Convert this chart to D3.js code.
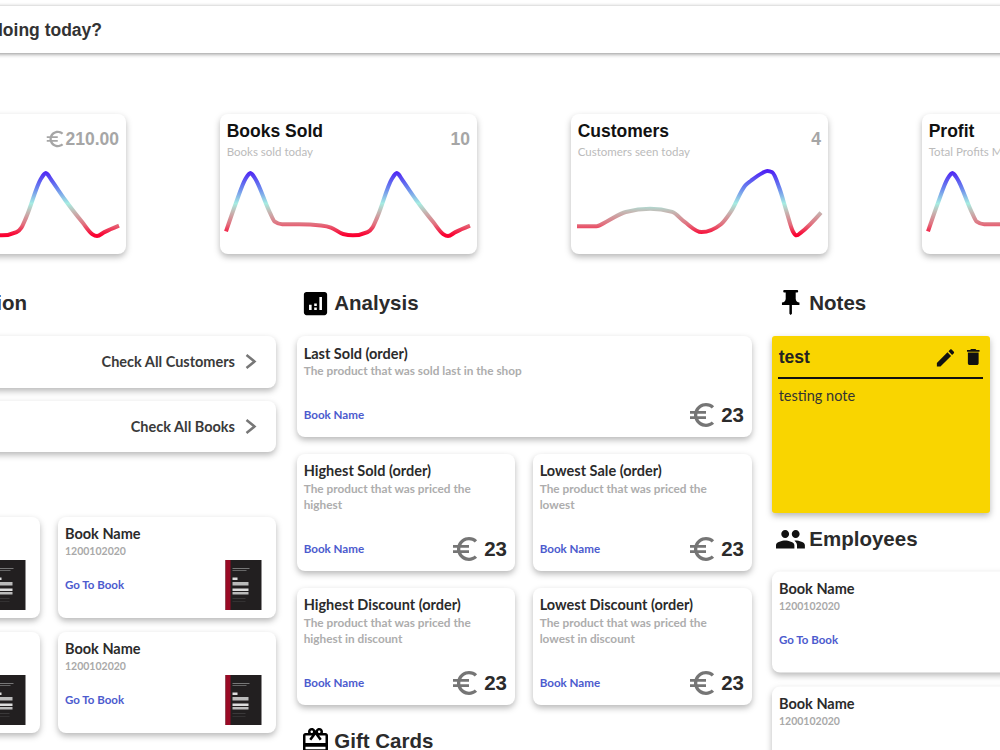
<!DOCTYPE html>
<html>
<head>
<meta charset="utf-8">
<title>Dashboard</title>
<script src="https://cdn.jsdelivr.net/npm/d3@7"></script>
<style>
  html, body { margin: 0; padding: 0; background: #fff; overflow: hidden; }
  svg { display: block; }
  text { font-family: "Lato", sans-serif; }
  .head { font-family: "Liberation Sans", sans-serif; font-weight: 700; fill: #2b2b2b; }
  .card { fill: #fff; filter: drop-shadow(0px 3px 3px rgba(0,0,0,0.28)); }
</style>
</head>
<body>
<svg id="page" width="1000" height="750"></svg>
<script>
//==============< chart values >=============//
var statTitles = ["", "Books Sold", "Customers", "Profit"];
var statSubtitles = ["", "Books sold today", "Customers seen today", "Total Profits Made"];
var statValues = ["210.00", "10", "4", ""];

// x is percent of the sparkline width, y is percent of its height
var salesX = [0, 4, 8, 9.3, 10, 10.7, 12, 18, 20, 23, 30, 39, 43, 48, 52, 58, 60, 62, 68, 69.3, 70, 70.7, 72, 78, 85, 89, 91, 94, 100];
var salesY = [7, 50, 88, 95, 97, 95, 88, 36, 22, 18, 18, 16, 13, 3, 1, 6, 13, 29, 88, 95, 97, 95, 88, 55, 21, 3, 0, 6, 16];
var booksX = [0, 4, 8, 9.3, 10, 10.7, 12, 18, 20, 23, 30, 39, 43, 48, 52, 58, 60, 62, 68, 69.3, 70, 70.7, 72, 78, 85, 89, 91, 94, 100];
var booksY = [7, 50, 88, 95, 97, 95, 88, 36, 22, 18, 18, 16, 13, 3, 1, 6, 13, 29, 88, 95, 97, 95, 88, 55, 21, 3, 0, 6, 16];
var customersX = [0, 8, 12, 20, 30, 39, 44, 51, 59, 63, 69, 71.3, 76, 78, 80, 83, 86, 88.5, 90, 92, 100];
var customersY = [15, 15, 22, 37, 42, 37, 22, 6, 18, 37, 78, 85, 97, 100, 98, 73, 36, 7, 1, 6, 36];
var profitX = [0, 4, 8, 9.3, 10, 10.7, 12, 18, 20, 23, 30, 39, 43, 48, 52, 58, 60, 62, 68, 69.3, 70, 70.7, 72, 78, 85, 89, 91, 94, 100];
var profitY = [7, 50, 88, 95, 97, 95, 88, 36, 22, 18, 18, 16, 13, 3, 1, 6, 13, 29, 88, 95, 97, 95, 88, 55, 21, 3, 0, 6, 16];

var analysisTitles = ["Last Sold (order)", "Highest Sold (order)", "Lowest Sale (order)", "Highest Discount (order)", "Lowest Discount (order)"];
var analysisLine1 = ["The product that was sold last in the shop", "The product that was priced the", "The product that was priced the", "The product that was priced the", "The product that was priced the"];
var analysisLine2 = ["", "highest", "lowest", "highest in discount", "lowest in discount"];
var analysisValues = [23, 23, 23, 23, 23];
var checkLabels = ["Check All Customers", "Check All Books"];

//==============< icon glyphs (material set, 24 unit box) >=============//
var icons = {
  euro: "M15 18.5c-2.51 0-4.68-1.42-5.76-3.5H15v-2H8.58c-.05-.33-.08-.66-.08-1s.03-.67.08-1H15V9H9.24C10.32 6.92 12.5 5.5 15 5.5c1.61 0 3.13.59 4.31 1.62L21.08 5.35C19.49 3.89 17.34 3 15 3 11.08 3 7.76 5.51 6.52 9H3v2h3.06c-.04.33-.06.66-.06 1s.02.67.06 1H3v2h3.52c1.24 3.49 4.56 6 8.48 6 2.34 0 4.49-.89 6.08-2.35l-1.77-1.77C18.13 17.91 16.61 18.5 15 18.5z",
  pin: "M16 9V4h1c.55 0 1-.45 1-1s-.45-1-1-1H7c-.55 0-1 .45-1 1s.45 1 1 1h1v5c0 1.66-1.34 3-3 3v2h5.97v7l1 1 1-1v-7H19v-2c-1.66 0-3-1.34-3-3z",
  edit: "M3 17.25V21h3.75L17.81 9.94l-3.75-3.75L3 17.25zM20.71 7.04c.39-.39.39-1.02 0-1.41l-2.34-2.34c-.39-.39-1.02-.39-1.41 0l-1.83 1.83 3.75 3.75 1.83-1.83z",
  trash: "M6 19c0 1.1.9 2 2 2h8c1.1 0 2-.9 2-2V7H6v12zM19 4h-3.5l-1-1h-5l-1 1H5v2h14V4z",
  people: "M16 11c1.66 0 2.99-1.34 2.99-3S17.66 5 16 5c-1.66 0-3 1.34-3 3s1.34 3 3 3zm-8 0c1.66 0 2.99-1.34 2.99-3S9.66 5 8 5C6.34 5 5 6.34 5 8s1.34 3 3 3zm0 2c-2.33 0-7 1.17-7 3.5V19h14v-2.5c0-2.33-4.67-3.5-7-3.5zm8 0c-.29 0-.62.02-.97.05 1.16.84 1.97 1.97 1.97 3.45V19h6v-2.5c0-2.33-4.67-3.5-7-3.5z",
  poll: "M19 3H5c-1.1 0-2 .9-2 2v14c0 1.1.9 2 2 2h14c1.1 0 2-.9 2-2V5c0-1.1-.9-2-2-2zM9 17H7v-4h2v4zm4 0h-2v-2h2v2zm0-3h-2v-2h2v2zm4 3h-2V7h2v10z",
  gift: "M20 6h-2.18c.11-.31.18-.65.18-1 0-1.66-1.34-3-3-3-1.05 0-1.96.54-2.5 1.35l-.5.67-.5-.68C10.96 2.54 10.05 2 9 2 7.34 2 6 3.34 6 5c0 .35.07.69.18 1H4c-1.11 0-1.99.89-1.99 2L2 19c0 1.11.89 2 2 2h16c1.11 0 2-.89 2-2V8c0-1.11-.89-2-2-2zm-5-2c.55 0 1 .45 1 1s-.45 1-1 1-1-.45-1-1 .45-1 1-1zM9 4c.55 0 1 .45 1 1s-.45 1-1 1-1-.45-1-1 .45-1 1-1zm11 15H4v-2h16v2zm0-5H4V8h5.08L7 10.83 8.62 12 11 8.76l1-1.36 1 1.36L15.38 12 17 10.83 14.92 8H20v6z"
};

var svg = d3.select("#page");

//==============< helpers >=============//
function addCard(x, y, w, h, radius) {
  return svg.append("rect").attr("class", "card")
    .attr("x", x).attr("y", y).attr("width", w).attr("height", h)
    .attr("rx", radius === undefined ? 8 : radius);
}

function addText(str, x, y, size, weight, fill, anchor, family) {
  // nothing to draw for labels that lie fully outside the window
  if (str === "" || y > 760 || x < 0 && anchor !== "end" || x > 1000 && anchor === "end") return;
  var t = svg.append("text").attr("x", x).attr("y", y).text(str)
    .attr("font-size", size).attr("font-weight", weight).attr("fill", fill)
    .attr("text-anchor", anchor || "start");
  if (family) t.style("font-family", family);
}

function addIcon(name, x, y, size, fill) {
  svg.append("path").attr("d", icons[name]).attr("fill", fill)
    .attr("transform", "translate(" + x + "," + y + ") scale(" + (size / 24) + ")");
}

function addHeading(str, x, y, anchor) {
  svg.append("text").attr("class", "head").attr("x", x).attr("y", y)
    .attr("font-size", 20.5).attr("text-anchor", anchor || "start").text(str);
}

//==============< gradient shared by the sparklines >=============//
var sparkTop = 171, sparkBottom = 236, sparkWidth = 244;
var grad = svg.append("defs").append("linearGradient").attr("id", "sparkGrad")
  .attr("gradientUnits", "userSpaceOnUse")
  .attr("x1", 0).attr("x2", 0).attr("y1", sparkTop - 2).attr("y2", sparkBottom + 2);
grad.selectAll("stop")
  .data([[0, "#4b16f5"], [0.28, "#6a86ee"], [0.5, "#a5ece2"], [0.62, "#c4b9b4"], [0.8, "#e2707e"], [0.96, "#fb0030"]])
  .join("stop")
  .attr("offset", function(d) { return d[0]; })
  .attr("stop-color", function(d) { return d[1]; });

var yScale = d3.scaleLinear().domain([0, 100]).range([sparkBottom, sparkTop]);

/** draws one stat card with its sparkline **/
function drawStat(i, cardX, xVals, yVals) {
  addCard(cardX, 114, 257, 140);
  addText(statTitles[i], cardX + 6.7, 137, 17.5, 700, "#111", "start", "'Liberation Sans'");
  addText(statSubtitles[i], cardX + 6.7, 156, 11.5, 400, "#bbb");

  var right = cardX + 250;
  addText(statValues[i], right, 145, 17.5, 700, "#a6a6a6", "end", "'Liberation Sans'");
  if (i === 0) addIcon("euro", right - 75, 128, 22, "#a6a6a6");

  var xScale = d3.scaleLinear().domain([0, 100]).range([cardX + 6, cardX + 6 + sparkWidth]);
  var line = d3.line()
    .x(function(d) { return xScale(d[0]); })
    .y(function(d) { return yScale(d[1]); })
    .curve(d3.curveMonotoneX);
  svg.append("path").datum(d3.zip(xVals, yVals))
    .attr("d", line).attr("fill", "none")
    .attr("stroke", "url(#sparkGrad)").attr("stroke-width", 4);
}

function drawCover(x, y) {
  svg.append("rect").attr("x", x).attr("y", y).attr("width", 36).attr("height", 50).attr("fill", "#221f20");
  svg.append("rect").attr("x", x).attr("y", y).attr("width", 5).attr("height", 50).attr("fill", "#9a0a25");
  [[8, 1, 17, "#777"], [10, 1, 14, "#666"], [17.5, 2.5, 5, "#ddd"], [22, 3.5, 16, "#bbb"],
   [28.5, 2.5, 16, "#ddd"], [32, 2.5, 16, "#bbb"], [38, 0.5, 13, "#555"], [41, 0.5, 13, "#444"]].forEach(function(r) {
    svg.append("rect").attr("x", x + 7).attr("y", y + r[0]).attr("width", r[2]).attr("height", r[1]).attr("fill", r[3]);
  });
}

function drawBookCard(x, y, w, h, withCover) {
  addCard(x, y, w, h);
  addText("Book Name", x + 7, y + 22, 14.5, 700, "#2b2b2b");
  addText("1200102020", x + 7, y + 38, 10.5, 700, "#a9a9a9");
  addText("Go To Book", x + 7, y + 72, 11.5, 700, "#4c5bce");
  if (withCover) drawCover(x + 167.5, y + 43);
}

function drawAnalysis(i, x, y, w, h) {
  addCard(x, y, w, h);
  addText(analysisTitles[i], x + 6.7, y + (i === 0 ? 22.6 : 21.8), 14.5, 700, "#2b2b2b");
  addText(analysisLine1[i], x + 6.7, y + 39, 11.8, 700, "#adadad");
  addText(analysisLine2[i], x + 6.7, y + 55, 11.8, 700, "#adadad");
  addText("Book Name", x + 6.7, y + h - 18, 11.6, 700, "#4c5bce");
  addText(analysisValues[i], x + w - 8, y + h - 15, 20.5, 700, "#2b2b2b", "end", "'Liberation Sans'");
  addIcon("euro", x + w - 66, y + h - 38, 32, "#757575");
}

//==============< page >=============//
// top bar
svg.append("rect").attr("x", -10).attr("y", 6).attr("width", 1020).attr("height", 47)
  .attr("fill", "#fff").style("filter", "drop-shadow(0px 1px 2px rgba(0,0,0,0.45))");
addText("How are you doing today?", 102, 36, 17.5, 700, "#333", "end", "'Liberation Sans'");

// stat row
drawStat(0, -131, salesX, salesY);
drawStat(1, 220, booksX, booksY);
drawStat(2, 571, customersX, customersY);
drawStat(3, 922, profitX, profitY);

// left column
addHeading("Navigation", 27, 310, "end");
checkLabels.forEach(function(label, i) {
  var y = i === 0 ? 336 : 401;
  addCard(-180, y, 456, i === 0 ? 52 : 51);
  addText(label, 235, y + 31, 14.5, 700, "#3a3a3a", "end");
  svg.append("path").attr("d", "M246.5 " + (y + 19) + "l8 6.5l-8 6.5")
    .attr("fill", "none").attr("stroke", "#777").attr("stroke-width", 2.5);
});
[517, 632].forEach(function(y) {
  drawBookCard(-178, y, 218, 101, true);
  drawBookCard(58, y, 218, 101, true);
});

// analysis column
addIcon("poll", 300, 288, 31, "#000");
addHeading("Analysis", 334.3, 310);
drawAnalysis(0, 297, 336, 455, 101);
drawAnalysis(1, 297, 454, 218, 117);
drawAnalysis(2, 533, 454, 219, 117);
drawAnalysis(3, 297, 588, 218, 117);
drawAnalysis(4, 533, 588, 219, 117);
addIcon("gift", 300.5, 725.5, 30, "#000");
addHeading("Gift Cards", 334.3, 748);

// notes column
addIcon("pin", 775.7, 287.5, 30, "#000");
addHeading("Notes", 809.3, 310);
addCard(772, 336, 218, 177, 3).style("fill", "#f9d500");
addText("test", 778.7, 363, 17.5, 700, "#222", "start", "'Liberation Sans'");
addIcon("edit", 934, 346.4, 23, "#111");
addIcon("trash", 962.5, 346.3, 21.5, "#111");
svg.append("rect").attr("x", 778).attr("y", 377).attr("width", 205).attr("height", 2).attr("fill", "#111");
addText("testing note", 778.7, 401, 14.5, 400, "#333");

addIcon("people", 774.7, 523.5, 31.5, "#111");
addHeading("Employees", 809.3, 546);
drawBookCard(772, 571.6, 240, 101, false);
drawBookCard(772, 686.6, 240, 101, false);
</script>
</body>
</html>
